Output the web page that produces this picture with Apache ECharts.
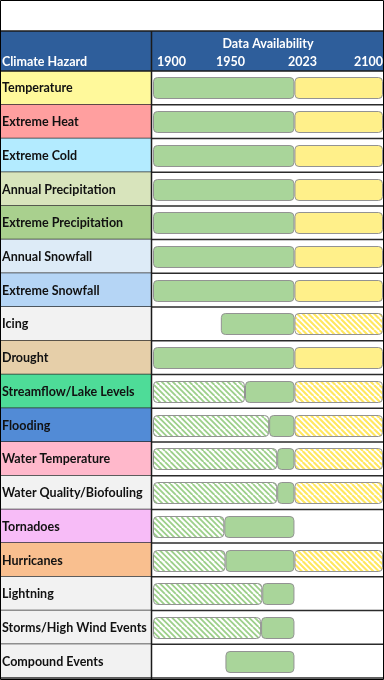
<!DOCTYPE html>
<html><head><meta charset="utf-8">
<script src="https://cdn.jsdelivr.net/npm/echarts@6/dist/echarts.min.js"></script>
<style>html,body{margin:0;padding:0;background:#fff}#c{width:384px;height:680px}</style>
</head><body><div id="c"></div>
<script>
// ---------- data ----------
const hazards = ['Temperature','Extreme Heat','Extreme Cold','Annual Precipitation','Extreme Precipitation','Annual Snowfall','Extreme Snowfall','Icing','Drought','Streamflow/Lake Levels','Flooding','Water Temperature','Water Quality/Biofouling','Tornadoes','Hurricanes','Lightning','Storms/High Wind Events','Compound Events'];
// start of reconstructed / modelled historical record (hatched green), null = none
const reconstructedStart = [null,null,null,null,null,null,null,null,null,1900,1900,1900,1900,1900,1900,1900,1900,null];
// observed record (solid green)
const observedStart = [1900,1900,1900,1900,1900,1900,1900,1959,1900,1980,2001,2008,2008,1962,1963,1995,1994,1963];
const observedEnd   = [2023,2023,2023,2023,2023,2023,2023,2023,2023,2023,2023,2023,2023,2023,2023,2023,2023,2023];
// projections: 'solid', 'hatched' or null
const projectionType = ['solid','solid','solid','solid','solid','solid','solid','hatched','solid','hatched','hatched','hatched','hatched',null,'hatched',null,null,null];
const projectionEnd = 2100;
const tickLabels = ['1900','1950','2023','2100'];
const headerTitle = 'Data Availability';
const columnTitle = 'Climate Hazard';

// ---------- styles ----------
const labelColors = ['#FFF99B','#FF9F9F','#B3EBFF','#D8E4BC','#A9D08E','#DDEBF7','#B5D5F5','#F2F2F2','#E6CFA9','#4EDC98','#528BD6','#FFB8CB','#F2F2F2','#F7BCF7','#F9BF8F','#F2F2F2','#F2F2F2','#F2F2F2'];
const GREEN = '#A9D59A', YELLOW = '#FFF08A';
const FONT = 'bold 12.5px Lato';

function hatch(color, lw){
  const p = 11, c = document.createElement('canvas');
  c.width = p; c.height = p;
  const g = c.getContext('2d');
  g.fillStyle = '#fff'; g.fillRect(0,0,p,p);
  g.strokeStyle = color; g.lineWidth = lw;
  g.beginPath();
  for (let k=-2;k<=2;k++){ const o = k*p/2; g.moveTo(o,0); g.lineTo(o+p,p); }
  g.stroke();
  return {image: c, repeat: 'repeat'};
}
const greenHatch = hatch('#9ED08C', 1.9);
const yellowHatch = hatch('#FFE760', 2.1);

const chart = echarts.init(document.getElementById('c'), null, {renderer:'canvas'});

function renderItem(params, api){
  const i = api.value(1);
  const yc = api.coord([1900, i])[1];
  const rowH = api.size([0,1])[1];
  const barH = rowH*0.62;
  const top = yc - rowH/2;
  const ch = [];
  ch.push({type:'rect', shape:{x:0,y:top,width:151,height:rowH}, style:{fill:labelColors[i]}});
  ch.push({type:'text', style:{text:hazards[i], x:2, y:yc+0.5, verticalAlign:'middle', font:FONT, fill:'#111'}});
  const seg = (a,b,fill) => {
    const x1 = api.coord([a,i])[0], x2 = api.coord([b,i])[0];
    ch.push({type:'rect', shape:{x:x1+0.5,y:Math.round(yc-barH/2)+0.5,width:x2-x1-1,height:Math.round(barH),r:4},
      style:{fill:fill, stroke:'#939393', lineWidth:1}});
  };
  if (reconstructedStart[i] != null) seg(reconstructedStart[i], observedStart[i], greenHatch);
  if (projectionType[i]) seg(observedEnd[i], projectionEnd, projectionType[i]==='solid' ? YELLOW : yellowHatch);
  seg(observedStart[i], observedEnd[i], GREEN);
  ch.push({type:'line', shape:{x1:0,y1:top+rowH,x2:384,y2:top+rowH}, style:{stroke:'#2b2b2b',lineWidth:1.5}});
  return {type:'group', children:ch};
}

const tickX = [157,216,288,354];
chart.setOption({
  animation:false,
  grid:{left:153,right:1,top:71,bottom:2},
  xAxis:{type:'value',min:1900,max:2100,show:false},
  yAxis:{type:'category',data:hazards,inverse:true,show:false},
  graphic:[
    {type:'rect', shape:{x:0,y:31,width:384,height:40}, style:{fill:'#2E5E9B'}},
    {type:'line', shape:{x1:0,y1:31,x2:384,y2:31}, style:{stroke:'#1b1b1b',lineWidth:1.5}},
    {type:'line', shape:{x1:0,y1:71,x2:384,y2:71}, style:{stroke:'#1b1b1b',lineWidth:1.5}, z:10},
    {type:'text', style:{text:columnTitle, x:2, y:62, verticalAlign:'middle', font:FONT, fill:'#fff'}},
    {type:'text', style:{text:headerTitle, x:268, y:44, align:'center', verticalAlign:'middle', font:FONT, fill:'#fff'}},
    ...tickLabels.map((t,k)=>({type:'text', style:{text:t, x:tickX[k], y:62, verticalAlign:'middle', font:FONT, fill:'#fff'}})),
    {type:'line', shape:{x1:151.5,y1:31,x2:151.5,y2:680}, style:{stroke:'#1b1b1b',lineWidth:1.5}, z:10},
    {type:'rect', shape:{x:0.5,y:0.5,width:383,height:679}, style:{fill:null, stroke:'#000', lineWidth:1}, z:10}
  ],
  series:[{
    type:'custom', clip:false, renderItem:renderItem,
    encode:{x:0,y:1},
    data: hazards.map((h,i)=>[1900,i])
  }]
});
</script></body></html>
